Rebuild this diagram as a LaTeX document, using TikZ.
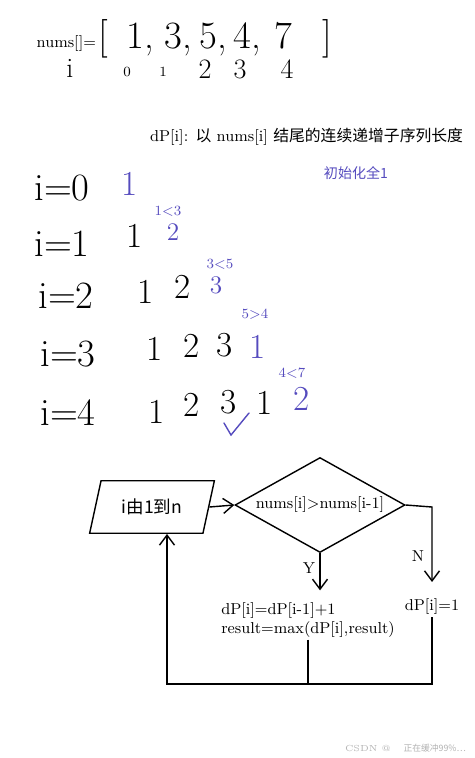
\documentclass[tikz,border=0pt]{standalone}
\usepackage{fontspec}
\newfontfamily\cjk{Noto Sans CJK SC}
\usetikzlibrary{positioning,shapes.geometric,arrows.meta}
\definecolor{penblue}{RGB}{85,75,190}

\begin{document}
\begin{tikzpicture}[x=0.02cm, y=-0.02cm,
   every node/.style={inner sep=1pt, anchor=base},
   arr/.style={font=\fontsize{22}{26}\selectfont},
   idx/.style={font=\fontsize{16}{20}\selectfont},
   row/.style={font=\fontsize{22}{26}\selectfont},
   val/.style={font=\fontsize{20}{24}\selectfont},
   init/.style={val, text=penblue},
   small init/.style={font=\Large, text=penblue},
   cmp/.style={font=\footnotesize, text=penblue},
   line/.style={draw, thick},
   go/.style={line, -{Straight Barb[length=2mm,width=3mm]}}]

\useasboundingbox (0,0) rectangle (474,758);

% the array and its indices
\node[font=\small, anchor=base east] (numsname) at (98,47) {nums[]=};
\node[arr] (lb) at (103,48) {[};
\node[arr] (n0) at (140,48) {1,};
\node[arr] (n1) at (178,48) {3,};
\node[arr] (n2) at (213,48) {5,};
\node[arr] (n3) at (247,48) {4,};
\node[arr] (n4) at (283,48) {7};
\node[arr] (rb) at (327,48) {]};

\node[idx] (ii) at (70,77) {i};
\node[font=\footnotesize] (i0) at (127,76) {0};
\node[font=\footnotesize] (i1) at (163,76) {1};
\node[idx] (i2) at (205,78) {2};
\node[idx] (i3) at (240,78) {3};
\node[idx] (i4) at (287,78) {4};

\node[anchor=base west, font=\small] (meaning) at (148,141)
   {dP[i]: {\cjk 以} nums[i] {\cjk 结尾的连续递增子序列长度}};
\node[font=\footnotesize\cjk, text=penblue] (initall) at (356,178) {初始化全1};

% dp table, row by row
\node[row] (r0) at (62,200) {i=0};
\node[init] (v00) at (130,195) {1};

\node[row] (r1) at (62,256) {i=1};
\node[val] (v10) at (135,247) {1};
\node[small init] (v11) at (173,240) {2};
\node[cmp] (c1) at (168,215) {1<3};

\node[row] (r2) at (66,308) {i=2};
\node[val] (v20) at (146,303) {1};
\node[val] (v21) at (183,298) {2};
\node[small init] (v22) at (216,293) {3};
\node[cmp] (c2) at (220,268) {3<5};

\node[row] (r3) at (68,366) {i=3};
\node[val] (v30) at (155,360) {1};
\node[val] (v31) at (192,357) {2};
\node[val] (v32) at (225,356) {3};
\node[init] (v33) at (258,358) {1};
\node[cmp] (c3) at (255,318) {5>4};

\node[row] (r4) at (68,425) {i=4};
\node[val] (v40) at (157,423) {1};
\node[val] (v41) at (192,416) {2};
\node[val] (v42) at (229,413) {3};
\node[val] (v43) at (265,414) {1};
\node[init] (v44) at (302,410) {2};
\node[cmp] (c4) at (292,377) {4<7};
\draw[penblue, thick, line cap=round] (224,423) -- (231,435) -- (249,413);

% flow chart
\node[draw, thick, anchor=center, trapezium, trapezium left angle=70,
   trapezium right angle=110, trapezium stretches=true,
   minimum width=2.5cm, minimum height=1.05cm, font=\cjk] (loop) at (152,507) {i由1到n};
\node[draw, thick, anchor=center, diamond, aspect=1.8, inner sep=0pt,
   minimum width=3.4cm, minimum height=1.9cm, font=\small] (test) at (320,505) {nums[i]>nums[i-1]};
\node[anchor=center, align=left, font=\small] (update) at (308,620)
   {dP[i]=dP[i-1]+1\\result=max(dP[i],result)};
\node[anchor=center, font=\small] (reset) at (432,607) {dP[i]=1};
\coordinate (ncorner) at (432,507);
\coordinate (back) at (167,684);

\draw[go] (loop.east) -- (test.west);
\draw[go, shorten >=3mm] (test.east) -- (ncorner) -- (reset.north);
\node[anchor=center, font=\small] (nlab) at (418,556) {N};
\draw[go, shorten >=2mm] (test.south) -- (test.south |- update.north);
\node[anchor=center, font=\small] (ylab) at (309,568) {Y};
\draw[go] (update.south) |- (back) -- (back |- loop.south);
\draw[line] (reset.south) |- (update.south |- back);

\node[anchor=east, font=\tiny, text=gray!60] (mark) at (468,748) {CSDN @ \quad{\cjk 正在缓冲99\%…}};

\end{tikzpicture}
\end{document}
